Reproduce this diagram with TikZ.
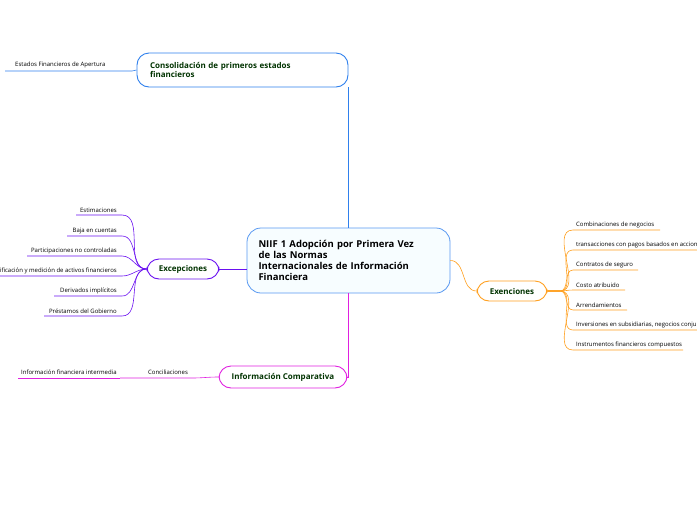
\documentclass[tikz,border=0pt]{standalone}
\usepackage{fontspec}
\setmainfont{Open Sans}
\begin{document}
\begin{tikzpicture}[x=1pt,y=-1pt,
  main/.style={draw=#1,rounded corners=12pt,line width=0.9pt,fill=white,font=\bfseries\fontsize{8}{9}\selectfont,text=black!60!green!50!black,align=left},
  lbl/.style={font=\fontsize{6}{7}\selectfont,inner sep=1pt},
  br/.style={draw=#1,line width=0.6pt}]
\useasboundingbox (0,0) rectangle (697,520);
\definecolor{cb}{HTML}{2F80ED}\definecolor{cp}{HTML}{6A11F0}\definecolor{cm}{HTML}{E020E0}\definecolor{co}{HTML}{FFA020}
% center
\node[draw=cb!80,fill=cyan!3,rounded corners=14pt,line width=0.8pt,minimum width=203pt,minimum height=65pt,text width=180pt,align=left,font=\bfseries\fontsize{9.5}{11}\selectfont] (c) at (348.5,260.5) {NIIF 1 Adopción por Primera Vez\\de las Normas\\Internacionales de Información\\Financiera};
% consolidacion
\node[main=cb,minimum width=211pt,minimum height=34pt,text width=185pt] (k) at (242.5,70) {Consolidación de primeros estados\\financieros};
\draw[br=cb] (c.north -| 348,0) -- (348,87);
\draw[br=cb] (5,71) -- (132,71) coordinate(ka) to[out=0,in=180] (k.west);
\node[lbl,anchor=south west] (ea) at (14,69) {Estados Financieros de Apertura};
% excepciones
\node[main=cp,minimum width=72pt,minimum height=20pt] (e) at (183,269) {Excepciones};
\draw[br=cp] (c.west |- e.east) -- (e.east);
\foreach \t/\y/\s [count=\i] in {Estimaciones/215/76,Baja en cuentas/236/67,Participaciones no controladas/256/27,{Clasificación y medición de activos financieros}/276/0,Derivados implícitos/296/54,Préstamos del Gobierno/316/44}{
  \node[lbl,anchor=south east] (x\i) at (118,\y-1) {\t};
  \draw[br=cp] (\s,\y) -- (122,\y) to[out=0,in=180] (e.west);
}
% comparativa
\node[main=cm,minimum width=128pt,minimum height=22pt] (m) at (283,377) {Información Comparativa};
\draw[br=cm] (348,293) -- (348,377) -- (m.east);
\draw[br=cm] (m.west) to[out=180,in=0] (192,378) -- (145,378) coordinate(ca) -- (120,378);
\node[lbl,anchor=south] (cc) at (168,376) {Conciliaciones};
\draw[br=cm] (18,378) -- (120,378);
\node[lbl,anchor=south west] (ii) at (20,376) {Información financiera intermedia};
% exenciones
\node[main=co,minimum width=70pt,minimum height=20pt] (x) at (512,291) {Exenciones};
\draw[br=co] (c.east) to[out=0,in=180] (x.west);
\foreach \t/\y/\e [count=\i] in {Combinaciones de negocios/230/660,transacciones con pagos basados en acciones/250/697,Contratos de seguro/270/638,Costo atribuido/290/625,Arrendamientos/310/627,{Inversiones en subsidiarias, negocios conjuntos}/330/697,Instrumentos financieros compuestos/350/683}{
  \node[lbl,anchor=south west] (y\i) at (575,\y-1) {\t};
  \draw[br=co] (x.east) -- (560,291) to[out=0,in=180] (573,\y) -- (\e,\y);
}
\end{tikzpicture}
\end{document}
